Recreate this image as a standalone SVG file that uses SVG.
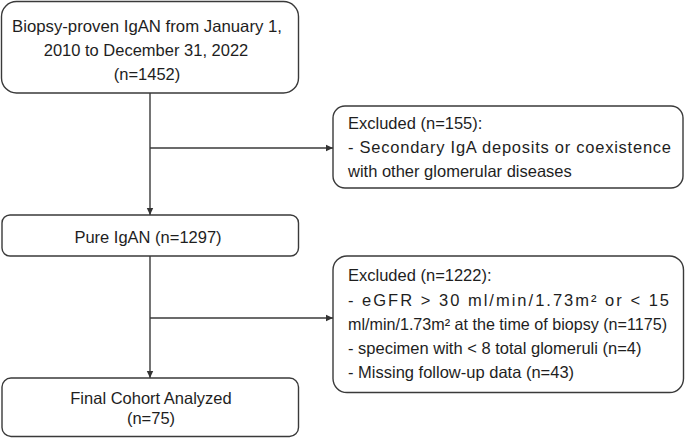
<svg xmlns="http://www.w3.org/2000/svg" width="685" height="438" viewBox="0 0 685 438">
<defs>
<marker id="arr" markerWidth="8" markerHeight="8" refX="7" refY="4" orient="auto" markerUnits="userSpaceOnUse">
<path d="M0,0.8 L7,4 L0,7.2 Z" fill="#333"/>
</marker>
</defs>
<style>
.box{fill:#fff;stroke:#3a3a3a;stroke-width:1.4}
.t{font-family:"Liberation Sans",Arial,sans-serif;font-size:16.5px;fill:#1e1e1e}
.c{text-anchor:middle}
.ln{stroke:#3a3a3a;stroke-width:1.4;fill:none}
</style>
<rect width="685" height="438" fill="#fff"/>
<g id="connectors">
<line class="ln" x1="150" y1="93" x2="150" y2="215" marker-end="url(#arr)"/>
<line class="ln" x1="150" y1="148" x2="333" y2="148" marker-end="url(#arr)"/>
<line class="ln" x1="150" y1="256" x2="150" y2="378" marker-end="url(#arr)"/>
<line class="ln" x1="150" y1="318" x2="333" y2="318" marker-end="url(#arr)"/>
</g>
<g id="node-start">
<rect class="box" x="1.5" y="1.5" width="297" height="91.5" rx="15"/>
<text class="t c" x="147" y="32" textLength="270" lengthAdjust="spacingAndGlyphs">Biopsy-proven IgAN from January 1,</text>
<text class="t c" x="146" y="56">2010 to December 31, 2022</text>
<text class="t c" x="147" y="80">(n=1452)</text>
</g>
<g id="node-excluded1">
<rect class="box" x="333" y="106" width="350" height="82" rx="12"/>
<text class="t" x="348" y="129">Excluded (n=155):</text>
<text class="t" x="348" y="153" textLength="323" lengthAdjust="spacing">- Secondary IgA deposits or coexistence</text>
<text class="t" x="348" y="177">with other glomerular diseases</text>
</g>
<g id="node-pure">
<rect class="box" x="2" y="215" width="296.5" height="41" rx="8"/>
<text class="t c" x="148" y="243">Pure IgAN (n=1297)</text>
</g>
<g id="node-excluded2">
<rect class="box" x="333" y="256" width="350.5" height="136.5" rx="14"/>
<text class="t" x="348" y="281">Excluded (n=1222):</text>
<text class="t" x="348" y="306" textLength="321" lengthAdjust="spacing">- eGFR &gt; 30 ml/min/1.73m² or &lt; 15</text>
<text class="t" x="348" y="330" textLength="319" lengthAdjust="spacingAndGlyphs">ml/min/1.73m² at the time of biopsy (n=1175)</text>
<text class="t" x="348" y="354">- specimen with &lt; 8 total glomeruli (n=4)</text>
<text class="t" x="348" y="378">- Missing follow-up data (n=43)</text>
</g>
<g id="node-final">
<rect class="box" x="2" y="378" width="296.5" height="58.5" rx="9"/>
<text class="t c" x="151" y="404">Final Cohort Analyzed</text>
<text class="t c" x="151" y="424">(n=75)</text>
</g>
</svg>
